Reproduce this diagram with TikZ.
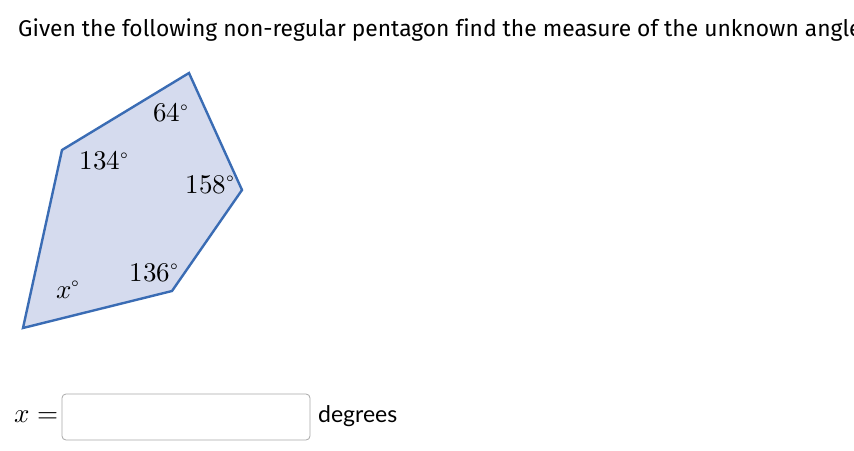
\documentclass[tikz,border=0pt]{standalone}
\usepackage{fontspec}
\setmainfont{Fira Sans}[Ligatures=NoCommon]
\newfontfamily\degfont{Lato}
\usepackage{unicode-math}
\setmathfont{Latin Modern Math}
\begin{document}
\begin{tikzpicture}[x=1pt,y=-1pt,
  poly/.style={draw=polyblue,fill=polyfill,line width=2.4pt,line join=miter},
  anglelbl/.style={font=\fontsize{27}{30}\selectfont,inner sep=0pt},
  txt/.style={font=\fontsize{22.8}{26}\selectfont,inner sep=0pt},
  inbox/.style={draw=boxgray,rounded corners=4pt,line width=0.8pt}]
\definecolor{polyblue}{HTML}{3A6CB4}
\definecolor{polyfill}{HTML}{D5DBEE}
\definecolor{boxgray}{HTML}{A8A8A8}
\useasboundingbox (0,0) rectangle (854,450);
\clip (0,0) rectangle (854,450);
\node[txt,anchor=base west] (title) at (18,36) {Given the following non-regular pentagon find the measure of the unknown angle};
\coordinate (A) at (189,73);
\coordinate (B) at (242,190);
\coordinate (C) at (172,291);
\coordinate (D) at (23,328);
\coordinate (E) at (62,150);
\draw[poly] (A) -- (B) -- (C) -- (D) -- (E) -- cycle;
\node[anglelbl] (a1) at (171,113) {$64^\circ$};
\node[anglelbl] (a2) at (104,161) {$134^\circ$};
\node[anglelbl] (a3) at (210,185) {$158^\circ$};
\node[anglelbl] (a4) at (154,273) {$136^\circ$};
\node[anglelbl] (a5) at (68,290) {$x^\circ$};
\node[anglelbl,anchor=base east] (xeq) at (59,422) {$x=$};
\draw[inbox] (62,394) rectangle (310,440);
\node[txt,anchor=base west,font=\degfont\fontsize{23}{26}\selectfont] (deg) at (318,422) {degrees};
\end{tikzpicture}
\end{document}
